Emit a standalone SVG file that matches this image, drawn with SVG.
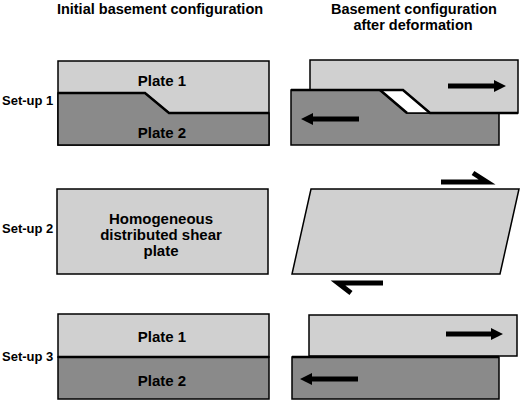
<svg xmlns="http://www.w3.org/2000/svg" width="521" height="400" viewBox="0 0 521 400">
<style>
text{font-family:"Liberation Sans",Arial,sans-serif;font-weight:bold;fill:#000}
.h{font-size:14.5px;text-anchor:middle}
.t{font-size:15px;text-anchor:middle}
.lab{font-size:13px}
.lt{fill:#d0d0d0;stroke:#000;stroke-width:1.5}
.dk{fill:#8a8a8a;stroke:#000;stroke-width:1.5}
.bd{fill:none;stroke:#000;stroke-width:2.5}
.ar{fill:#000}
.sh{fill:none;stroke:#000;stroke-width:5}
</style>
<g id="headers">
<text class="h" x="160" y="13.5">Initial basement configuration</text>
<text class="h" x="414" y="13.5">Basement configuration</text>
<text class="h" x="413" y="30">after deformation</text>
</g>
<g id="labels">
<text class="lab" x="2" y="105">Set-up 1</text>
<text class="lab" x="2" y="233">Set-up 2</text>
<text class="lab" x="2" y="361">Set-up 3</text>
</g>
<g id="setup1-initial">
<rect class="lt" x="58" y="61" width="211" height="84"/>
<polygon class="dk" points="58,93 145,93 169,113 269,113 269,145 58,145"/>
<polyline class="bd" points="58,93 145,93 169,113 269,113"/>
<text class="t" x="162" y="86">Plate 1</text>
<text class="t" x="162" y="138">Plate 2</text>
</g>
<g id="setup1-deformed">
<rect class="lt" x="310" y="60" width="208" height="53"/>
<polygon class="dk" points="291,90 380,90 407,113 499,113 499,145 291,145"/>
<polygon fill="#fff" stroke="#000" stroke-width="1.5" points="380,90 403,90 430,113 407,113"/>
<polyline class="bd" points="291,90 403,90 430,113 518,113"/>
<line class="bd" x1="380" y1="90" x2="407" y2="113"/>
<polygon class="ar" points="448,83.5 494,83.5 494,80 506,86 494,92 494,88.5 448,88.5"/>
<polygon class="ar" points="359,116.5 313,116.5 313,113 301,119 313,125 313,121.5 359,121.5"/>
</g>
<g id="setup2-initial">
<rect class="lt" x="57" y="189" width="211" height="85"/>
<text class="t" x="161" y="224">Homogeneous</text>
<text class="t" x="161" y="240">distributed shear</text>
<text class="t" x="161" y="256">plate</text>
</g>
<g id="setup2-deformed">
<polygon class="lt" points="311,189 519,189 500,274 292,274"/>
<polyline class="sh" points="441,182 487,182 473,173"/>
<polyline class="sh" points="383,283 338,283 351,293"/>
</g>
<g id="setup3-initial">
<rect class="lt" x="58" y="314" width="211" height="43"/>
<rect class="dk" x="58" y="357" width="211" height="42"/>
<line class="bd" x1="58" y1="357" x2="269" y2="357"/>
<text class="t" x="162" y="342">Plate 1</text>
<text class="t" x="162" y="386">Plate 2</text>
</g>
<g id="setup3-deformed">
<rect class="lt" x="309" y="315" width="208" height="41"/>
<rect class="dk" x="292" y="357" width="207" height="42"/>
<line class="bd" x1="292" y1="357" x2="499" y2="357"/>
<polygon class="ar" points="446,331.5 491,331.5 491,328 503,334 491,340 491,336.5 446,336.5"/>
<polygon class="ar" points="358,376.5 312,376.5 312,373 300,379 312,385 312,381.5 358,381.5"/>
</g>
</svg>
